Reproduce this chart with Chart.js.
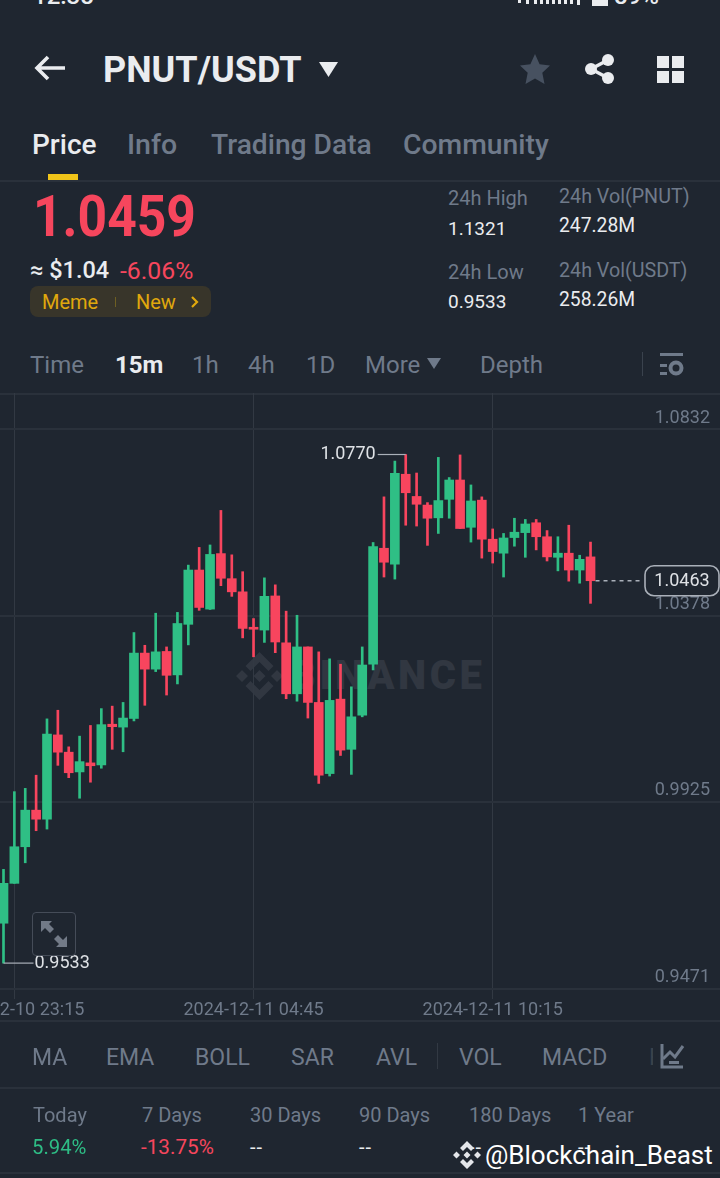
<!DOCTYPE html>
<html>
<head>
<meta charset="utf-8">
<title>PNUT/USDT</title>
<script src="https://cdn.jsdelivr.net/npm/chart.js@4/dist/chart.umd.min.js"></script>
<style>
  html, body { margin: 0; padding: 0; background: #1f2630; }
  body { position: relative; width: 720px; height: 1178px; overflow: hidden; font-family: Roboto, sans-serif; color: #eaecef; }
  .t { position: absolute; white-space: nowrap; line-height: 1; transform: translateY(-50%); }
  .g { color: #6f7a8a; }
  .w { color: #eaecef; }
  .sep { position: absolute; left: 0; width: 720px; height: 2px; background: #2a313b; }
  svg { position: absolute; overflow: visible; }
  #wrap { position: absolute; left: 0; top: 393px; width: 720px; height: 627px; }
  #mark { position: absolute; left: 290px; top: 676px; transform: translateY(-50%); font: 900 40px/1 Roboto, sans-serif; letter-spacing: 3.6px; color: #313741; }
</style>
</head>
<body>
  <!-- status bar, cut off by the top of the screenshot -->
  <div class="t w" style="left:33px;top:-4px;font-size:24px;font-weight:500">12:38</div>
  <div class="t w" style="left:614px;top:-4px;font-size:24px;font-weight:500">89%</div>
  <svg style="left:518px;top:0" width="80" height="6"><path d="M0 0h3v3H0zM8 0h3v4H8zM16 0h3v4h-3zM22 0h3v4h-3zM28 0h3v4h-3zM34 0h3v4h-3zM40 0h3v4h-3zM46 0h3v4h-3zM52 0h3v4h-3zM59 0h3v5h-3zM74 0h16v6H74z" fill="#eaecef"/></svg>

  <!-- header -->
  <svg style="left:34px;top:55px" width="32" height="26"><path d="M31 13H4M14 2 3 13l11 11" fill="none" stroke="#eaecef" stroke-width="3.6"/></svg>
  <div class="t w" style="left:103px;top:70px;font-size:36px;font-weight:700">PNUT/USDT</div>
  <svg style="left:319px;top:62px" width="19" height="15"><path d="M0 0h19L9.5 15z" fill="#eaecef"/></svg>
  <svg style="left:520px;top:54px" width="30" height="30"><path d="M15 0l4.600 10.300 10.400 1.200-7.700 7.300 2.200 11.200L15 24.400 5.500 30l2.200-11.200L0 11.500l10.400-1.200z" fill="#475160"/></svg>
  <svg style="left:585px;top:54px" width="29" height="30"><path d="M6 15 23 6M6 15l17 9" stroke="#eaecef" stroke-width="3.500"/><circle cx="6" cy="15" r="6" fill="#eaecef"/><circle cx="23" cy="6" r="6" fill="#eaecef"/><circle cx="23" cy="24" r="6" fill="#eaecef"/></svg>
  <svg style="left:657px;top:56px" width="27" height="27"><path d="M0 0h12v12H0zM15 0h12v12H15zM0 15h12v12H0zM15 15h12v12H15z" fill="#eaecef"/></svg>

  <!-- tabs -->
  <div class="t w" style="left:32px;top:145px;font-size:28px;font-weight:500">Price</div>
  <div class="t g" style="left:127px;top:145px;font-size:28.500px;font-weight:500">Info</div>
  <div class="t g" style="left:211px;top:145px;font-size:28.200px;font-weight:500">Trading Data</div>
  <div class="t g" style="left:403px;top:145px;font-size:28.300px;font-weight:500">Community</div>
  <div style="position:absolute;left:48px;top:174px;width:30px;height:6px;background:#f0c419"></div>
  <div class="sep" style="top:180px"></div>

  <!-- price block -->
  <div class="t" style="left:33px;top:216px;font-size:57px;font-weight:700;color:#f6465d;transform:translateY(-50%) scaleX(0.905);transform-origin:left center">1.0459</div>
  <div class="t w" style="left:30px;top:271px;font-size:23.500px;font-weight:500">≈ $1.04</div>
  <div class="t" style="left:120px;top:271px;font-size:24.800px;color:#f6465d">-6.06%</div>
  <div style="position:absolute;left:30px;top:286px;width:181px;height:31px;border-radius:8px;background:#38352a"></div>
  <div class="t" style="left:42px;top:302px;font-size:20px;color:#e0a80d">Meme</div>
  <div style="position:absolute;left:115px;top:297px;width:1px;height:10px;background:#6e5f22"></div>
  <div class="t" style="left:136px;top:302px;font-size:20px;color:#e0a80d">New</div>
  <svg style="left:191px;top:296px" width="8" height="12"><path d="M1 1l5 5-5 5" fill="none" stroke="#e0a80d" stroke-width="2.200"/></svg>

  <div class="t g" style="left:448px;top:198px;font-size:20px">24h High</div>
  <div class="t w" style="left:448px;top:228px;font-size:19px">1.1321</div>
  <div class="t g" style="left:448px;top:272px;font-size:20px">24h Low</div>
  <div class="t w" style="left:448px;top:301px;font-size:19px">0.9533</div>
  <div class="t g" style="left:559px;top:197px;font-size:19.700px">24h Vol(PNUT)</div>
  <div class="t w" style="left:559px;top:226px;font-size:19.300px">247.28M</div>
  <div class="t g" style="left:559px;top:271px;font-size:19.700px">24h Vol(USDT)</div>
  <div class="t w" style="left:559px;top:300px;font-size:19.300px">258.26M</div>

  <!-- interval row -->
  <div class="t g" style="left:30px;top:365px;font-size:24px">Time</div>
  <div class="t w" style="left:115px;top:365px;font-size:24px;font-weight:700">15m</div>
  <div class="t g" style="left:192px;top:365px;font-size:24px">1h</div>
  <div class="t g" style="left:248px;top:365px;font-size:24px">4h</div>
  <div class="t g" style="left:306px;top:365px;font-size:24px">1D</div>
  <div class="t g" style="left:365px;top:365px;font-size:24px">More</div>
  <svg style="left:427px;top:358px" width="14" height="11"><path d="M0 0h14L7 11z" fill="#6f7a8a"/></svg>
  <div class="t g" style="left:480px;top:365px;font-size:24px">Depth</div>
  <div style="position:absolute;left:642px;top:352px;width:1px;height:24px;background:#3a424d"></div>
  <svg style="left:660px;top:353px" width="24" height="24"><path d="M0 0h23v3H0zM0 11h7v3H0zM0 19h7v3H0z" fill="#6f7a8a"/><circle cx="16" cy="15" r="5.500" fill="none" stroke="#6f7a8a" stroke-width="4"/></svg>
  <div class="sep" style="top:393px"></div>

  <!-- chart -->
  <svg style="left:236px;top:652px" width="47" height="48"><g fill="#313741"><path d="M23.500 0l14 14-5 5-9-9-9 9-5-5zM23.500 48l-14-14 5-5 9 9 9-9 5 5zM6 18l6 6-6 6-6-6zM41 18l6 6-6 6-6-6zM23.500 18l6 6-6 6-6-6z"/></g></svg>
  <div id="mark">BINANCE</div>
  <div id="wrap"><canvas id="chart-candles"></canvas></div>
  <div style="position:absolute;left:32px;top:912px;width:42px;height:42px;border:1.500px solid #454c58;border-radius:4px;background:#1f2630"></div>
  <svg style="left:41px;top:921px" width="26" height="26"><path d="M0 0h11L8 3l5 5-4 4-5-5-4 4zM26 26H15l3-3-5-5 4-4 5 5 4-4z" fill="#727a87"/></svg>
  <div class="sep" style="top:1020px"></div>

  <!-- indicators row -->
  <div class="t g" style="left:32px;top:1057px;font-size:23px">MA</div>
  <div class="t g" style="left:106px;top:1057px;font-size:23px">EMA</div>
  <div class="t g" style="left:195px;top:1057px;font-size:23px">BOLL</div>
  <div class="t g" style="left:291px;top:1057px;font-size:23px">SAR</div>
  <div class="t g" style="left:376px;top:1057px;font-size:23px">AVL</div>
  <div style="position:absolute;left:437px;top:1043px;width:1px;height:26px;background:#323943"></div>
  <div class="t g" style="left:459px;top:1057px;font-size:23px">VOL</div>
  <div class="t g" style="left:542px;top:1057px;font-size:23px">MACD</div>
  <div class="t" style="left:649px;top:1057px;font-size:23px;color:#3a424d;width:4px;overflow:hidden">R</div>
  <svg style="left:661px;top:1044px" width="23" height="24"><path d="M1 0v23h21" fill="none" stroke="#6f7a8a" stroke-width="3"/><path d="M2 15 9 8l5 5 8-11" fill="none" stroke="#6f7a8a" stroke-width="3"/><path d="M8 17h10v3H8z" fill="#6f7a8a"/></svg>
  <div class="sep" style="top:1087px"></div>

  <!-- performance row -->
  <div class="t g" style="left:33px;top:1115px;font-size:20px">Today</div>
  <div class="t g" style="left:142px;top:1115px;font-size:20px">7 Days</div>
  <div class="t g" style="left:250px;top:1115px;font-size:20px">30 Days</div>
  <div class="t g" style="left:359px;top:1115px;font-size:20px">90 Days</div>
  <div class="t g" style="left:469px;top:1115px;font-size:20px">180 Days</div>
  <div class="t g" style="left:578px;top:1115px;font-size:20px">1 Year</div>
  <div class="t" style="left:32px;top:1147px;font-size:20.300px;color:#2ebd85">5.94%</div>
  <div class="t" style="left:141px;top:1147px;font-size:20.700px;color:#f6465d">-13.75%</div>
  <div class="t w" style="left:250px;top:1147px;font-size:20px;letter-spacing:1px">--</div>
  <div class="t w" style="left:359px;top:1147px;font-size:20px;letter-spacing:1px">--</div>
  <div class="t w" style="left:469px;top:1147px;font-size:20px;letter-spacing:1px">--</div>
  <div class="t w" style="left:578px;top:1147px;font-size:20px;letter-spacing:1px">--</div>
  <div class="sep" style="top:1172px"></div>

  <!-- creator stamp -->
  <svg style="left:453px;top:1141px" width="28" height="28"><path d="M14 0l7 7-3 3-4-4-4 4-3-3zM14 28l-7-7 3-3 4 4 4-4 3 3zM3.500 10.500l3.500 3.500-3.500 3.500L0 14zM24.500 10.500l3.500 3.500-3.500 3.500L21 14zM14 10.500l3.500 3.500-3.500 3.500-3.500-3.500z" fill="#e4e6ea"/></svg>
  <div class="t" style="left:485px;top:1155px;font-size:26px;color:#fff">@Blockchain_Beast</div>

<script>
// 15m candles, first one is 2024-12-10 23:00
const opens = [
  0.9630, 0.9727, 0.9816, 0.9905, 0.9883, 1.0088, 1.0046, 0.9998, 1.0020, 1.0015, 1.0114,
  1.0107, 1.0128, 1.0287, 1.0248, 1.0291, 1.0234, 1.0357, 1.0489, 1.0394, 1.0529, 1.0468,
  1.0436, 1.0349, 1.0343, 1.0426, 1.0312, 1.0188, 1.0302, 1.0167, 0.9994, 1.0175, 1.0053,
  1.0136, 1.0260, 1.0542, 1.0503, 1.0722, 1.0668, 1.0647, 1.0616, 1.0661, 1.0708, 1.0593,
  1.0659, 1.0564, 1.0530, 1.0568, 1.0580, 1.0604, 1.0570, 1.0520, 1.0530, 1.0489, 1.0521,
]
const highs = [
  0.9761, 0.9950, 0.9958, 0.9990, 1.0127, 1.0148, 1.0059, 1.0085, 1.0111, 1.0152, 1.0158,
  1.0167, 1.0337, 1.0306, 1.0384, 1.0302, 1.0386, 1.0501, 1.0544, 1.0550, 1.0634, 1.0526,
  1.0485, 1.0371, 1.0470, 1.0453, 1.0389, 1.0379, 1.0302, 1.0290, 1.0273, 1.0260, 1.0205,
  1.0302, 1.0556, 1.0667, 1.0754, 1.0770, 1.0725, 1.0653, 1.0763, 1.0714, 1.0769, 1.0696,
  1.0667, 1.0589, 1.0578, 1.0615, 1.0612, 1.0612, 1.0585, 1.0570, 1.0598, 1.0525, 1.0557,
]
const lows = [
  0.9533, 0.9727, 0.9777, 0.9855, 0.9859, 1.0014, 0.9984, 0.9934, 0.9973, 1.0007, 1.0053,
  1.0047, 1.0122, 1.0160, 1.0242, 1.0185, 1.0212, 1.0307, 1.0391, 1.0393, 1.0451, 1.0425,
  1.0324, 1.0278, 1.0313, 1.0288, 1.0176, 1.0170, 1.0129, 0.9970, 0.9988, 1.0038, 0.9992,
  1.0132, 1.0246, 1.0472, 1.0467, 1.0598, 1.0596, 1.0549, 1.0578, 1.0615, 1.0590, 1.0557,
  1.0518, 1.0506, 1.0472, 1.0547, 1.0520, 1.0538, 1.0511, 1.0487, 1.0462, 1.0457, 1.0408,
]
const closes = [
  0.9727, 0.9816, 0.9905, 0.9883, 1.0090, 1.0046, 0.9996, 1.0023, 1.0013, 1.0113, 1.0108,
  1.0129, 1.0287, 1.0248, 1.0290, 1.0233, 1.0359, 1.0489, 1.0398, 1.0527, 1.0469, 1.0436,
  1.0347, 1.0345, 1.0425, 1.0314, 1.0188, 1.0302, 1.0167, 0.9990, 1.0172, 1.0051, 1.0132,
  1.0258, 1.0546, 1.0508, 1.0724, 1.0677, 1.0649, 1.0615, 1.0658, 1.0708, 1.0590, 1.0657,
  1.0564, 1.0534, 1.0567, 1.0581, 1.0601, 1.0570, 1.0521, 1.0530, 1.0489, 1.0515, 1.0463,
]

const priceTicks = [1.0832, 1.0378, 0.9925, 0.9471]
const timeTickIndexes = [1, 23, 45]
const timeTickLabels = ['2024-12-10 23:15', '2024-12-11 04:45', '2024-12-11 10:15']

const GREEN = '#2fbf85'
const RED = '#f8455e'
const AXIS_TEXT = '#6f7a8a'
const LABEL_TEXT = '#dfe2e6'
const FONT = 'Roboto, sans-serif'

const candleColors = opens.map((o, i) => (closes[i] >= o ? GREEN : RED))

// High, low and last price callouts, placed through the chart scales
const calloutPlugin = {
  id: 'callouts',
  afterDatasetsDraw(chart) {
    const { ctx, scales: { x, y } } = chart
    const hiIdx = highs.indexOf(Math.max(...highs))
    const loIdx = lows.indexOf(Math.min(...lows))
    const lastIdx = closes.length - 1

    ctx.save()
    ctx.font = `18px ${FONT}`
    ctx.textBaseline = 'middle'
    ctx.strokeStyle = '#aab0b9'
    ctx.fillStyle = LABEL_TEXT
    ctx.lineWidth = 1.2

    // highest price
    const hx = x.getPixelForValue(hiIdx)
    const hy = y.getPixelForValue(highs[hiIdx])
    ctx.beginPath()
    ctx.moveTo(hx, hy)
    ctx.lineTo(hx - 28, hy)
    ctx.stroke()
    ctx.textAlign = 'right'
    ctx.fillText(highs[hiIdx].toFixed(4), hx - 30, hy)

    // lowest price
    const lx = x.getPixelForValue(loIdx)
    const ly = y.getPixelForValue(lows[loIdx])
    ctx.beginPath()
    ctx.moveTo(lx, ly)
    ctx.lineTo(lx + 30, ly)
    ctx.stroke()
    ctx.textAlign = 'left'
    ctx.fillText(lows[loIdx].toFixed(4), lx + 31, ly)

    // last price
    const px = x.getPixelForValue(lastIdx)
    const py = y.getPixelForValue(closes[lastIdx])
    ctx.setLineDash([4, 4])
    ctx.lineWidth = 1.5
    ctx.beginPath()
    ctx.moveTo(px + 5, py)
    ctx.lineTo(px + 50, py)
    ctx.stroke()
    ctx.setLineDash([])
    ctx.fillStyle = '#1f2630'
    ctx.lineWidth = 1.6
    ctx.beginPath()
    ctx.roundRect(645, py - 15, 74, 30, 9)
    ctx.fill()
    ctx.stroke()
    ctx.fillStyle = LABEL_TEXT
    ctx.textAlign = 'center'
    ctx.fillText(closes[lastIdx].toFixed(4), 682, py + 1)
    ctx.restore()
  },
}

function createCandleChart() {
  const canvas = document.getElementById('chart-candles')

  return new Chart(canvas.getContext('2d'), {
    type: 'bar',
    data: {
      datasets: [
        {
          label: 'Body',
          data: opens.map((o, i) => ({ x: i, y: [o, closes[i]] })),
          backgroundColor: candleColors,
          barThickness: 9,
          grouped: false,
          order: 1,
          minBarLength: 2,
        },
        {
          label: 'Wick',
          data: highs.map((h, i) => ({ x: i, y: [lows[i], h] })),
          backgroundColor: candleColors,
          barThickness: 2,
          grouped: false,
          order: 2,
        },
      ],
    },
    options: {
      responsive: true,
      maintainAspectRatio: false,
      animation: false,
      layout: { padding: 0 },
      plugins: {
        legend: { display: false },
        tooltip: { enabled: false },
      },
      scales: {
        x: {
          type: 'linear',
          min: -0.322,
          max: 65.91,
          offset: false,
          afterBuildTicks: (scale) => {
            scale.ticks = timeTickIndexes.map(value => ({ value }))
          },
          afterFit: (scale) => {
            scale.height = 21
            scale.paddingLeft = 0
            scale.paddingRight = 0
          },
          grid: { color: '#323943', lineWidth: 1, drawTicks: false, offset: false },
          border: { display: false },
          ticks: {
            color: AXIS_TEXT,
            autoSkip: false,
            maxRotation: 0,
            minRotation: 0,
            padding: 1,
            font: { size: 18, family: FONT },
            callback: (value) => timeTickLabels[timeTickIndexes.indexOf(value)],
          },
        },
        y: {
          position: 'right',
          min: 0.94457,
          max: 1.09196,
          afterBuildTicks: (scale) => {
            scale.ticks = priceTicks.map(value => ({ value }))
          },
          afterFit: (scale) => {
            scale.width = 0
            scale.paddingTop = 0
            scale.paddingBottom = 0
          },
          grid: { color: '#2a313b', lineWidth: 2, drawTicks: false },
          border: { display: false },
          ticks: {
            color: AXIS_TEXT,
            mirror: true,
            padding: -10,
            labelOffset: -11,
            font: { size: 18, family: FONT },
            callback: (value) => value.toFixed(4),
          },
        },
      },
    },
    plugins: [calloutPlugin],
  })
}

createCandleChart()
</script>
</body>
</html>
